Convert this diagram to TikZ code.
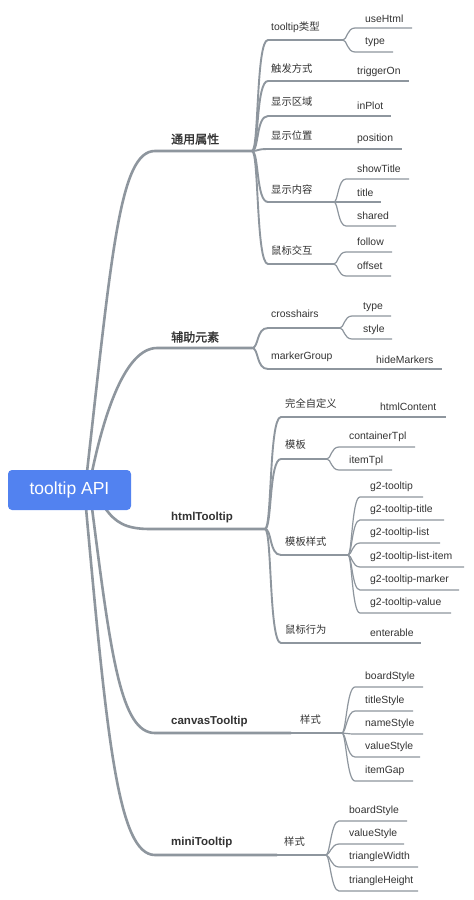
\documentclass[tikz,border=0pt]{standalone}
\usepackage{fontspec}
\setmainfont{Liberation Sans}
\newfontfamily\cjk{Noto Sans CJK SC}
\newfontfamily\cjkm{Noto Sans CJK SC}[FakeBold=1.6]
\newcommand\zh[1]{{\cjk #1}}
\definecolor{lnc}{HTML}{8E969E}
\definecolor{txc}{HTML}{333333}
\definecolor{rootc}{HTML}{5282F0}
\begin{document}
\begin{tikzpicture}[x=1pt,y=-1pt,
  l1/.style={draw=lnc,line width=2.6pt},
  l2/.style={draw=lnc,line width=1.9pt},
  l3/.style={draw=lnc,line width=1.2pt},
  br2/.style={to path={.. controls +(7,0) and +(-12,0) .. (\tikztotarget)}},
  br3/.style={to path={.. controls +(4,0) and +(-8,0) .. (\tikztotarget)}},
  lab/.style={anchor=west,inner sep=0pt,text=txc},
  t1/.style={lab,font=\fontsize{11.5}{13}\selectfont\bfseries},
  t1z/.style={lab,font=\cjkm\fontsize{12}{14}\selectfont},
  t2/.style={lab,font=\fontsize{10.4}{12}\selectfont},
  t2z/.style={lab,font=\cjk\fontsize{10.3}{12}\selectfont},
  rootbox/.style={fill=rootc,rounded corners=4pt,minimum width=123pt,minimum height=40pt,inner sep=0pt,text=white,font=\fontsize{17.5}{20}\selectfont}]
\useasboundingbox (0,0) rectangle (474,900);
\fill[white] (0,0) rectangle (474,900);

% ---------- level 1 ----------
\coordinate (r1) at (87,472);
\coordinate (r2) at (92,472);
\coordinate (r3) at (105,508);
\coordinate (r4) at (92,508);
\coordinate (r5) at (86,508);

\coordinate (g1s) at (155,151); \coordinate (A) at (252,151);
\draw[l1] (r1) .. controls (112,250) and (120,151) .. (g1s) -- (A);
\node[t1z] (n1) at (171,139) {通用属性};

\coordinate (g2s) at (157,348); \coordinate (B) at (252,348);
\draw[l1] (r2) .. controls (104,415) and (125,348) .. (g2s) -- (B);
\node[t1z] (n2) at (171,337) {辅助元素};

\coordinate (g3s) at (150,529); \coordinate (C) at (265,529);
\draw[l1] (r3) .. controls (115,522) and (125,529) .. (g3s) -- (C);
\node[t1] (n3) at (171,518) {htmlTooltip};

\coordinate (g4s) at (155,733); \coordinate (D0) at (291,733); \coordinate (D) at (342,733);
\draw[l1] (r4) .. controls (111,657) and (121,733) .. (g4s) -- (D0);
\draw[l2] (D0) -- (D);
\node[t1] (n4) at (171,722) {canvasTooltip};
\node[t2z] (d0) at (300,720) {样式};

\coordinate (g5s) at (155,855); \coordinate (E0) at (277,855); \coordinate (E) at (326,855);
\draw[l1] (r5) .. controls (107,738) and (118,855) .. (g5s) -- (E0);
\draw[l2] (E0) -- (E);
\node[t1] (n5) at (171,843) {miniTooltip};
\node[t2z] (e0) at (284,842) {样式};

% ---------- 通用属性 ----------
\coordinate (a1s) at (268,40); \coordinate (A1) at (343,40);
\draw[l2] (A) to[br2] (a1s) -- (A1);
\node[t2] (a1) at (271,27) {tooltip\zh{类型}};
\coordinate (a11s) at (355,28); \coordinate (a11e) at (412,28);
\draw[l3] (A1) to[br3] (a11s) -- (a11e);
\node[t2] (a11) at (365,19) {useHtml};
\coordinate (a12s) at (355,52); \coordinate (a12e) at (393,52);
\draw[l3] (A1) to[br3] (a12s) -- (a12e);
\node[t2] (a12) at (365,42) {type};

\coordinate (a2s) at (268,81); \coordinate (A2) at (333,81); \coordinate (a2e) at (409,81);
\draw[l2] (A) to[br2] (a2s) -- (A2);
\draw[l3] (A2) -- (a2e);
\node[t2z] (a2) at (271,69) {触发方式};
\node[t2] (a21) at (357,72) {triggerOn};

\coordinate (a3s) at (268,116); \coordinate (A3) at (333,116); \coordinate (a3e) at (391,116);
\draw[l2] (A) to[br2] (a3s) -- (A3);
\draw[l3] (A3) -- (a3e);
\node[t2z] (a3) at (271,102) {显示区域};
\node[t2] (a31) at (357,106) {inPlot};

\coordinate (a4s) at (268,149); \coordinate (A4) at (333,149); \coordinate (a4e) at (402,149);
\draw[l2] (A) to[br2] (a4s) -- (A4);
\draw[l3] (A4) -- (a4e);
\node[t2z] (a4) at (271,136) {显示位置};
\node[t2] (a41) at (357,139) {position};

\coordinate (a5s) at (268,202); \coordinate (A5) at (334,202);
\draw[l2] (A) to[br2] (a5s) -- (A5);
\node[t2z] (a5) at (271,190) {显示内容};
\coordinate (a51s) at (346,179); \coordinate (a51e) at (409,179);
\draw[l3] (A5) to[br3] (a51s) -- (a51e);
\node[t2] (a51) at (357,169) {showTitle};
\coordinate (a52s) at (346,202); \coordinate (a52e) at (381,202);
\draw[l3] (A5) -- (a52s) -- (a52e);
\node[t2] (a52) at (357,193) {title};
\coordinate (a53s) at (346,226); \coordinate (a53e) at (396,226);
\draw[l3] (A5) to[br3] (a53s) -- (a53e);
\node[t2] (a53) at (357,216) {shared};

\coordinate (a6s) at (268,264); \coordinate (A6) at (334,264);
\draw[l2] (A) to[br2] (a6s) -- (A6);
\node[t2z] (a6) at (271,251) {鼠标交互};
\coordinate (a61s) at (346,252); \coordinate (a61e) at (392,252);
\draw[l3] (A6) to[br3] (a61s) -- (a61e);
\node[t2] (a61) at (357,242) {follow};
\coordinate (a62s) at (346,276); \coordinate (a62e) at (391,276);
\draw[l3] (A6) to[br3] (a62s) -- (a62e);
\node[t2] (a62) at (357,266) {offset};

% ---------- 辅助元素 ----------
\coordinate (b1s) at (268,328); \coordinate (B1) at (340,328);
\draw[l2] (B) to[br2] (b1s) -- (B1);
\node[t2] (b1) at (271,314) {crosshairs};
\coordinate (b11s) at (352,316); \coordinate (b11e) at (391,316);
\draw[l3] (B1) to[br3] (b11s) -- (b11e);
\node[t2] (b11) at (363,307) {type};
\coordinate (b12s) at (352,339); \coordinate (b12e) at (392,339);
\draw[l3] (B1) to[br3] (b12s) -- (b12e);
\node[t2] (b12) at (363,330) {style};

\coordinate (b2s) at (268,369); \coordinate (B2) at (353,369); \coordinate (b2e) at (442,369);
\draw[l2] (B) to[br2] (b2s) -- (B2);
\draw[l3] (B2) -- (b2e);
\node[t2] (b2) at (271,357) {markerGroup};
\node[t2] (b21) at (376,360) {hideMarkers};

% ---------- htmlTooltip ----------
\coordinate (c1s) at (281,417); \coordinate (C1) at (357,417); \coordinate (c1e) at (446,417);
\draw[l2] (C) to[br2] (c1s) -- (C1);
\draw[l3] (C1) -- (c1e);
\node[t2z] (c1) at (285,404) {完全自定义};
\node[t2] (c11) at (380,407) {htmlContent};

\coordinate (c2s) at (281,459); \coordinate (C2) at (327,459);
\draw[l2] (C) to[br2] (c2s) -- (C2);
\node[t2z] (c2) at (285,445) {模板};
\coordinate (c21s) at (339,447); \coordinate (c21e) at (415,447);
\draw[l3] (C2) to[br3] (c21s) -- (c21e);
\node[t2] (c21) at (349,437) {containerTpl};
\coordinate (c22s) at (339,470); \coordinate (c22e) at (392,470);
\draw[l3] (C2) to[br3] (c22s) -- (c22e);
\node[t2] (c22) at (349,461) {itemTpl};

\coordinate (c3s) at (281,555); \coordinate (C3) at (348,555);
\draw[l2] (C) to[br2] (c3s) -- (C3);
\node[t2z] (c3) at (285,542) {模板样式};
\foreach \nm/\yy/\xe/\tx in {c31/497/423/g2-tooltip, c32/520/444/g2-tooltip-title, c33/543/440/g2-tooltip-list, c34/567/464/g2-tooltip-list-item, c35/590/459/g2-tooltip-marker, c36/613/451/g2-tooltip-value}{
  \coordinate (\nm s) at (360,\yy); \coordinate (\nm e) at (\xe,\yy);
  \draw[l3] (C3) to[br3] (\nm s) -- (\nm e);
  \node[t2] (\nm) at (370,\yy-10) {\tx};
}

\coordinate (c4s) at (281,643); \coordinate (C4) at (347,643); \coordinate (c4e) at (421,643);
\draw[l2] (C) to[br2] (c4s) -- (C4);
\draw[l3] (C4) -- (c4e);
\node[t2z] (c4) at (285,630) {鼠标行为};
\node[t2] (c41) at (370,633) {enterable};

% ---------- canvasTooltip ----------
\foreach \nm/\yy/\xe/\tx in {d1/687/423/boardStyle, d2/711/413/titleStyle, d3/734/423/nameStyle, d4/757/420/valueStyle, d5/781/413/itemGap}{
  \coordinate (\nm s) at (355,\yy); \coordinate (\nm e) at (\xe,\yy);
  \draw[l3] (D) to[br3] (\nm s) -- (\nm e);
  \node[t2] (\nm) at (365,\yy-10) {\tx};
}

% ---------- miniTooltip ----------
\foreach \nm/\yy/\xe/\tx in {e1/821/407/boardStyle, e2/844/404/valueStyle, e3/867/418/triangleWidth, e4/891/418/triangleHeight}{
  \coordinate (\nm s) at (339,\yy); \coordinate (\nm e) at (\xe,\yy);
  \draw[l3] (E) to[br3] (\nm s) -- (\nm e);
  \node[t2] (\nm) at (349,\yy-10) {\tx};
}

% ---------- root ----------
\node[rootbox] (root) at (69.5,490) {tooltip API};
\end{tikzpicture}
\end{document}
